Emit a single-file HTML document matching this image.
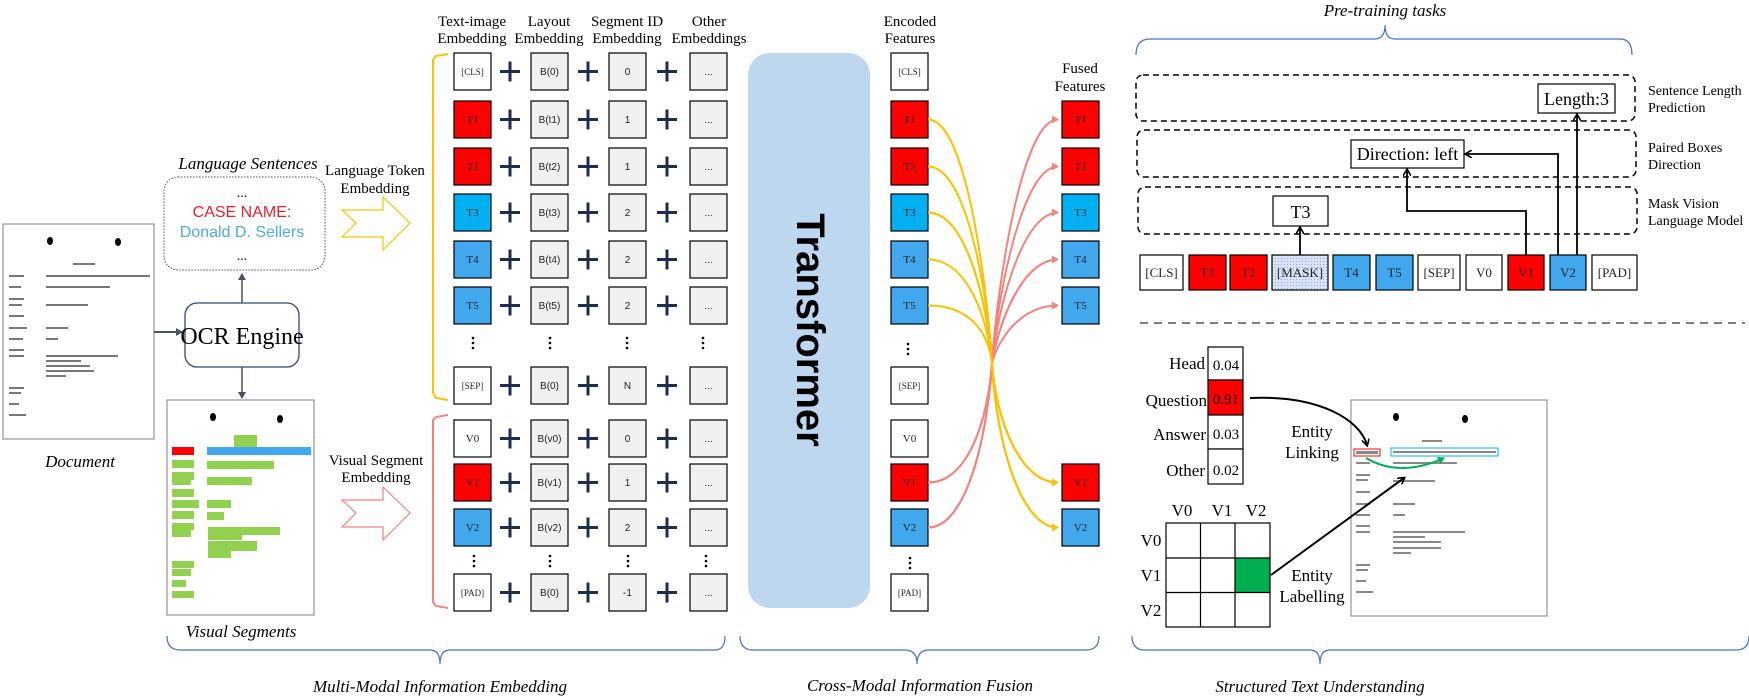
<!DOCTYPE html>
<html><head><meta charset="utf-8"><style>
html,body{margin:0;padding:0;background:#fff;}
svg{display:block;font-family:"Liberation Serif",serif;}
.s{font-family:"Liberation Sans",sans-serif;}
</style></head><body>
<svg width="1749" height="697" viewBox="0 0 1749 697" xmlns="http://www.w3.org/2000/svg">
<defs>
<marker id="ak" markerWidth="8" markerHeight="8" refX="6" refY="4" orient="auto" markerUnits="userSpaceOnUse"><path d="M0,0 L7,4 L0,8" fill="none" stroke="#000" stroke-width="1.6"/></marker>
<marker id="ab" markerWidth="8" markerHeight="8" refX="6" refY="4" orient="auto" markerUnits="userSpaceOnUse"><path d="M0,0 L7,4 L0,8 z" fill="#44546a"/></marker>
<marker id="ay" markerWidth="8" markerHeight="8" refX="6" refY="4" orient="auto" markerUnits="userSpaceOnUse"><path d="M0,0 L7,4 L0,8 z" fill="#ffc000"/></marker>
<marker id="ar" markerWidth="8" markerHeight="8" refX="6" refY="4" orient="auto" markerUnits="userSpaceOnUse"><path d="M0,0 L7,4 L0,8 z" fill="#f4837d"/></marker>
<marker id="ag" markerWidth="8" markerHeight="8" refX="6" refY="4" orient="auto" markerUnits="userSpaceOnUse"><path d="M0,0 L7,4 L0,8 z" fill="#00b050"/></marker>
<pattern id="dots" width="3" height="3" patternUnits="userSpaceOnUse"><rect width="3" height="3" fill="#dae3f3"/><rect width="1" height="1" fill="#8faadc"/></pattern>
</defs>

<!-- Document -->
<rect x="3" y="224" width="151" height="215" fill="#fff" stroke="#7f7f7f" stroke-width="1"/>
<ellipse cx="50" cy="241" rx="3" ry="4"/><ellipse cx="118" cy="242" rx="3" ry="4"/>
<g fill="#777">
<rect x="73" y="263" width="22" height="2"/>
<rect x="9" y="275" width="15" height="2"/><rect x="46" y="275" width="104" height="2"/>
<rect x="9" y="286" width="12" height="2"/><rect x="46" y="286" width="64" height="2"/>
<rect x="9" y="298" width="15" height="2"/><rect x="9" y="304" width="13" height="2"/><rect x="46" y="304" width="42" height="2"/>
<rect x="9" y="315" width="15" height="2"/>
<rect x="9" y="327" width="18" height="2"/><rect x="46" y="327" width="22" height="2"/>
<rect x="9" y="338" width="14" height="2"/><rect x="46" y="338" width="12" height="2"/>
<rect x="9" y="349" width="15" height="2"/><rect x="9" y="355" width="15" height="2"/><rect x="46" y="355" width="72" height="2"/>
<rect x="46" y="360" width="35" height="2"/><rect x="46" y="365" width="44" height="2"/><rect x="46" y="370" width="48" height="2"/><rect x="46" y="375" width="20" height="2"/>
<rect x="9" y="387" width="15" height="2"/><rect x="9" y="392" width="12" height="2"/>
<rect x="9" y="403" width="10" height="2"/><rect x="9" y="414" width="17" height="2"/>
</g>
<text x="80" y="467" font-size="17" font-style="italic" text-anchor="middle">Document</text>

<!-- Language sentences -->
<text x="248" y="169" font-size="17" font-style="italic" text-anchor="middle">Language Sentences</text>
<rect x="164" y="177" width="161" height="93" rx="14" fill="#fff" stroke="#44546a" stroke-width="1" stroke-dasharray="1.5,1.5"/>
<text x="242" y="197" font-size="14" text-anchor="middle">...</text>
<text x="242" y="217" font-size="16" class="s" fill="#e8202a" text-anchor="middle">CASE NAME:</text>
<text x="242" y="237" font-size="16" class="s" fill="#4bacdf" text-anchor="middle">Donald D. Sellers</text>
<text x="242" y="260" font-size="14" text-anchor="middle">...</text>

<!-- OCR engine -->
<rect x="185" y="303" width="114" height="64" rx="12" fill="#fff" stroke="#2f4a7a" stroke-width="1.3"/>
<text x="242" y="344" font-size="24" text-anchor="middle">OCR Engine</text>
<line x1="242" y1="303" x2="242" y2="274" stroke="#44546a" stroke-width="1.5" marker-end="url(#ab)"/>
<line x1="154" y1="332" x2="182" y2="332" stroke="#44546a" stroke-width="2" marker-end="url(#ab)"/>
<line x1="242" y1="367" x2="242" y2="398" stroke="#44546a" stroke-width="1.5" marker-end="url(#ab)"/>

<!-- Visual segments -->
<rect x="167" y="400" width="147" height="215" fill="#fff" stroke="#7f7f7f" stroke-width="1"/>
<ellipse cx="213" cy="417" rx="3" ry="4"/><ellipse cx="280" cy="419" rx="3" ry="4"/>
<rect x="234" y="435" width="23" height="12" fill="#92d050"/>
<rect x="172" y="447" width="22" height="8" fill="#ff0000"/>
<rect x="207" y="447" width="104" height="8" fill="#41a8ee"/>
<g fill="#92d050">
<rect x="172" y="460" width="22" height="8"/><rect x="207" y="461" width="67" height="8"/>
<rect x="172" y="472" width="22" height="8"/><rect x="172" y="478" width="19" height="7"/><rect x="207" y="477" width="45" height="8"/>
<rect x="172" y="489" width="22" height="8"/>
<rect x="172" y="500" width="27" height="8"/><rect x="207" y="500" width="24" height="8"/>
<rect x="172" y="511" width="22" height="8"/><rect x="207" y="512" width="17" height="8"/>
<rect x="172" y="523" width="22" height="7"/><rect x="172" y="530" width="19" height="7"/>
<rect x="208" y="527" width="72" height="8"/><rect x="208" y="534" width="34" height="6"/><rect x="208" y="541" width="49" height="5"/><rect x="208" y="546" width="49" height="5"/><rect x="208" y="551" width="23" height="7"/>
<rect x="172" y="561" width="22" height="7"/><rect x="172" y="569" width="19" height="7"/>
<rect x="172" y="580" width="14" height="7"/><rect x="172" y="591" width="22" height="7"/>
</g>
<text x="241" y="637" font-size="17" font-style="italic" text-anchor="middle">Visual Segments</text>

<!-- embedding arrows -->
<text x="375" y="175" font-size="15" text-anchor="middle">Language Token</text>
<text x="375" y="193" font-size="15" text-anchor="middle">Embedding</text>
<path d="M342,210 L383,210 L383,197 L410,223 L383,250 L383,237 L342,237 L356,223 Z" fill="#fff" stroke="#ffc000" stroke-width="1.2"/>
<text x="376" y="465" font-size="15" text-anchor="middle">Visual Segment</text>
<text x="376" y="482" font-size="15" text-anchor="middle">Embedding</text>
<path d="M342,500 L383,500 L383,487 L410,513 L383,540 L383,527 L342,527 L356,513 Z" fill="#fff" stroke="#f4837d" stroke-width="1.2"/>

<!-- brackets -->
<path d="M448,54 L436,56 L433,60 L433,393 L436,398 L448,400" fill="none" stroke="#ffc000" stroke-width="2"/>
<path d="M448,415 L436,417 L433,420 L433,602 L436,606 L448,608" fill="none" stroke="#f4837d" stroke-width="2"/>

<!-- headers -->
<g font-size="15" text-anchor="middle">
<text x="472" y="26">Text-image</text><text x="472" y="43">Embedding</text>
<text x="549" y="26">Layout</text><text x="549" y="43">Embedding</text>
<text x="627" y="26">Segment ID</text><text x="627" y="43">Embedding</text>
<text x="709" y="26">Other</text><text x="709" y="43">Embeddings</text>
<text x="910" y="26">Encoded</text><text x="910" y="43">Features</text>
<text x="1080" y="73">Fused</text><text x="1080" y="91">Features</text>
</g>

<!-- Column 1 text-image & encoded -->
<g stroke="#000" stroke-width="1.2">
<rect x="454" y="53" width="37" height="37" fill="#fff"/>
<rect x="454" y="101" width="37" height="37" fill="#ff0000"/>
<rect x="454" y="148" width="37" height="37" fill="#ff0000"/>
<rect x="454" y="194" width="37" height="37" fill="#00b0f0"/>
<rect x="454" y="241" width="37" height="37" fill="#41a8ee"/>
<rect x="454" y="287" width="37" height="37" fill="#41a8ee"/>
<rect x="454" y="367" width="37" height="37" fill="#fff"/>
<rect x="454" y="420" width="37" height="37" fill="#fff"/>
<rect x="454" y="464" width="37" height="37" fill="#ff0000"/>
<rect x="454" y="509" width="37" height="37" fill="#41a8ee"/>
<rect x="454" y="574" width="37" height="37" fill="#fff"/>

<rect x="891" y="53" width="37" height="37" fill="#fff"/>
<rect x="891" y="101" width="37" height="37" fill="#ff0000"/>
<rect x="891" y="148" width="37" height="37" fill="#ff0000"/>
<rect x="891" y="194" width="37" height="37" fill="#00b0f0"/>
<rect x="891" y="241" width="37" height="37" fill="#41a8ee"/>
<rect x="891" y="287" width="37" height="37" fill="#41a8ee"/>
<rect x="891" y="367" width="37" height="37" fill="#fff"/>
<rect x="891" y="420" width="37" height="37" fill="#fff"/>
<rect x="891" y="464" width="37" height="37" fill="#ff0000"/>
<rect x="891" y="509" width="37" height="37" fill="#41a8ee"/>
<rect x="891" y="574" width="37" height="37" fill="#fff"/>

<rect x="1062" y="101" width="37" height="37" fill="#ff0000"/>
<rect x="1062" y="148" width="37" height="37" fill="#ff0000"/>
<rect x="1062" y="194" width="37" height="37" fill="#00b0f0"/>
<rect x="1062" y="241" width="37" height="37" fill="#41a8ee"/>
<rect x="1062" y="287" width="37" height="37" fill="#41a8ee"/>
<rect x="1062" y="464" width="37" height="37" fill="#ff0000"/>
<rect x="1062" y="509" width="37" height="37" fill="#41a8ee"/>
</g>
<g font-size="11" text-anchor="middle" fill="#222">
<text x="472.5" y="75" font-size="9">[CLS]</text><text x="472.5" y="123">T1</text><text x="472.5" y="170">T2</text><text x="472.5" y="216">T3</text><text x="472.5" y="263">T4</text><text x="472.5" y="309">T5</text><text x="472.5" y="389" font-size="9">[SEP]</text><text x="472.5" y="442">V0</text><text x="472.5" y="486">V1</text><text x="472.5" y="531">V2</text><text x="472.5" y="596" font-size="9">[PAD]</text>
<text x="909.5" y="75" font-size="9">[CLS]</text><text x="909.5" y="123">T1</text><text x="909.5" y="170">T2</text><text x="909.5" y="216">T3</text><text x="909.5" y="263">T4</text><text x="909.5" y="309">T5</text><text x="909.5" y="389" font-size="9">[SEP]</text><text x="909.5" y="442">V0</text><text x="909.5" y="486">V1</text><text x="909.5" y="531">V2</text><text x="909.5" y="596" font-size="9">[PAD]</text>
<text x="1080.5" y="123">T1</text><text x="1080.5" y="170">T2</text><text x="1080.5" y="216">T3</text><text x="1080.5" y="263">T4</text><text x="1080.5" y="309">T5</text><text x="1080.5" y="486">V1</text><text x="1080.5" y="531">V2</text>
</g>

<!-- Layout / segment / other -->
<g fill="#f0f0f0" stroke="#000" stroke-width="1.2">
<rect x="531" y="53" width="37" height="37"/><rect x="531" y="101" width="37" height="37"/><rect x="531" y="148" width="37" height="37"/><rect x="531" y="194" width="37" height="37"/><rect x="531" y="241" width="37" height="37"/><rect x="531" y="287" width="37" height="37"/><rect x="531" y="367" width="37" height="37"/><rect x="531" y="420" width="37" height="37"/><rect x="531" y="464" width="37" height="37"/><rect x="531" y="509" width="37" height="37"/><rect x="531" y="574" width="37" height="37"/>
<rect x="609" y="53" width="37" height="37"/><rect x="609" y="101" width="37" height="37"/><rect x="609" y="148" width="37" height="37"/><rect x="609" y="194" width="37" height="37"/><rect x="609" y="241" width="37" height="37"/><rect x="609" y="287" width="37" height="37"/><rect x="609" y="367" width="37" height="37"/><rect x="609" y="420" width="37" height="37"/><rect x="609" y="464" width="37" height="37"/><rect x="609" y="509" width="37" height="37"/><rect x="609" y="574" width="37" height="37"/>
<rect x="690" y="53" width="37" height="37"/><rect x="690" y="101" width="37" height="37"/><rect x="690" y="148" width="37" height="37"/><rect x="690" y="194" width="37" height="37"/><rect x="690" y="241" width="37" height="37"/><rect x="690" y="287" width="37" height="37"/><rect x="690" y="367" width="37" height="37"/><rect x="690" y="420" width="37" height="37"/><rect x="690" y="464" width="37" height="37"/><rect x="690" y="509" width="37" height="37"/><rect x="690" y="574" width="37" height="37"/>
</g>
<g font-size="10" text-anchor="middle" class="s" fill="#222">
<text x="549.5" y="75">B(0)</text><text x="549.5" y="123">B(t1)</text><text x="549.5" y="170">B(t2)</text><text x="549.5" y="216">B(t3)</text><text x="549.5" y="263">B(t4)</text><text x="549.5" y="309">B(t5)</text><text x="549.5" y="389">B(0)</text><text x="549.5" y="442">B(v0)</text><text x="549.5" y="486">B(v1)</text><text x="549.5" y="531">B(v2)</text><text x="549.5" y="596">B(0)</text>
<text x="627.5" y="75">0</text><text x="627.5" y="123">1</text><text x="627.5" y="170">1</text><text x="627.5" y="216">2</text><text x="627.5" y="263">2</text><text x="627.5" y="309">2</text><text x="627.5" y="389">N</text><text x="627.5" y="442">0</text><text x="627.5" y="486">1</text><text x="627.5" y="531">2</text><text x="627.5" y="596">-1</text>
<text x="708.5" y="75">...</text><text x="708.5" y="123">...</text><text x="708.5" y="170">...</text><text x="708.5" y="216">...</text><text x="708.5" y="263">...</text><text x="708.5" y="309">...</text><text x="708.5" y="389">...</text><text x="708.5" y="442">...</text><text x="708.5" y="486">...</text><text x="708.5" y="531">...</text><text x="708.5" y="596">...</text>
</g>

<!-- vertical dots -->
<g fill="#000">
<circle cx="473" cy="338" r="1.3"/><circle cx="473" cy="343" r="1.3"/><circle cx="473" cy="348" r="1.3"/>
<circle cx="550" cy="338" r="1.3"/><circle cx="550" cy="343" r="1.3"/><circle cx="550" cy="348" r="1.3"/>
<circle cx="627" cy="338" r="1.3"/><circle cx="627" cy="343" r="1.3"/><circle cx="627" cy="348" r="1.3"/>
<circle cx="703" cy="338" r="1.3"/><circle cx="703" cy="343" r="1.3"/><circle cx="703" cy="348" r="1.3"/>
<circle cx="908" cy="344" r="1.3"/><circle cx="908" cy="349" r="1.3"/><circle cx="908" cy="354" r="1.3"/>
<circle cx="474" cy="556" r="1.3"/><circle cx="474" cy="561" r="1.3"/><circle cx="474" cy="566" r="1.3"/>
<circle cx="550" cy="556" r="1.3"/><circle cx="550" cy="561" r="1.3"/><circle cx="550" cy="566" r="1.3"/>
<circle cx="628" cy="556" r="1.3"/><circle cx="628" cy="561" r="1.3"/><circle cx="628" cy="566" r="1.3"/>
<circle cx="706" cy="556" r="1.3"/><circle cx="706" cy="561" r="1.3"/><circle cx="706" cy="566" r="1.3"/>
<circle cx="910" cy="558" r="1.3"/><circle cx="910" cy="563" r="1.3"/><circle cx="910" cy="568" r="1.3"/>
</g>

<!-- plus signs -->
<g stroke="#1f2d50" stroke-width="3">
<path d="M500,71.5h20M510,61.5v20 M578,71.5h20M588,61.5v20 M657,71.5h20M667,61.5v20"/>
<path d="M500,119.5h20M510,109.5v20 M578,119.5h20M588,109.5v20 M657,119.5h20M667,109.5v20"/>
<path d="M500,166.5h20M510,156.5v20 M578,166.5h20M588,156.5v20 M657,166.5h20M667,156.5v20"/>
<path d="M500,212.5h20M510,202.5v20 M578,212.5h20M588,202.5v20 M657,212.5h20M667,202.5v20"/>
<path d="M500,259.5h20M510,249.5v20 M578,259.5h20M588,249.5v20 M657,259.5h20M667,249.5v20"/>
<path d="M500,305.5h20M510,295.5v20 M578,305.5h20M588,295.5v20 M657,305.5h20M667,295.5v20"/>
<path d="M500,385.5h20M510,375.5v20 M578,385.5h20M588,375.5v20 M657,385.5h20M667,375.5v20"/>
<path d="M500,438.5h20M510,428.5v20 M578,438.5h20M588,428.5v20 M657,438.5h20M667,428.5v20"/>
<path d="M500,482.5h20M510,472.5v20 M578,482.5h20M588,472.5v20 M657,482.5h20M667,472.5v20"/>
<path d="M500,527.5h20M510,517.5v20 M578,527.5h20M588,517.5v20 M657,527.5h20M667,517.5v20"/>
<path d="M500,592.5h20M510,582.5v20 M578,592.5h20M588,582.5v20 M657,592.5h20M667,582.5v20"/>
</g>

<!-- Transformer -->
<rect x="748" y="53" width="122" height="555" rx="22" fill="#bdd7ee"/>
<text transform="translate(797,330) rotate(90)" font-size="40" font-weight="bold" class="s" text-anchor="middle" fill="#000">Transformer</text>

<!-- fusion curves -->
<g fill="none" stroke="#f4837d" stroke-width="2">
<path d="M928,482.5 C968,482.5 988,420 992,363 C996,300 1020,119.5 1058,119.5" marker-end="url(#ar)"/>
<path d="M928,482.5 C968,482.5 988,420 992,363 C996,310 1020,166.5 1058,166.5" marker-end="url(#ar)"/>
<path d="M928,527.5 C968,527.5 988,430 992,363 C996,320 1020,212.5 1058,212.5" marker-end="url(#ar)"/>
<path d="M928,527.5 C968,527.5 988,430 992,363 C997,330 1020,259.5 1058,259.5" marker-end="url(#ar)"/>
<path d="M928,527.5 C968,527.5 988,430 992,363 C998,340 1020,305.5 1058,305.5" marker-end="url(#ar)"/>
<path d="M928,482.5 C968,482.5 988,420 992,363 C997,330 1020,259.5 1058,259.5"/>
</g>
<g fill="none" stroke="#ffc000" stroke-width="2">
<path d="M928,119.5 C968,119.5 988,300 992,363 C996,420 1020,482.5 1058,482.5" marker-end="url(#ay)"/>
<path d="M928,166.5 C968,166.5 988,300 992,363 C996,420 1020,482.5 1058,482.5"/>
<path d="M928,212.5 C968,212.5 988,310 992,363 C996,420 1020,482.5 1058,482.5"/>
<path d="M928,259.5 C968,259.5 988,320 992,363 C996,440 1020,527.5 1058,527.5" marker-end="url(#ay)"/>
<path d="M928,305.5 C968,305.5 988,330 992,363 C996,440 1020,527.5 1058,527.5"/>
<path d="M928,212.5 C968,212.5 988,310 992,363 C996,440 1020,527.5 1058,527.5"/>
</g>

<!-- bottom braces -->
<g fill="none" stroke="#4472c4" stroke-width="1.2">
<path d="M167,636 Q167,650 180,650 L430,650 Q440,650 440,664 Q440,650 450,650 L715,650 Q725,650 725,636"/>
<path d="M740,636 Q740,650 753,650 L905,650 Q917,650 917,664 Q917,650 929,650 L1086,650 Q1099,650 1099,636"/>
<path d="M1132,636 Q1132,650 1145,650 L1310,650 Q1320,650 1320,664 Q1320,650 1330,650 L1736,650 Q1749,650 1749,636"/>
<path d="M1136,55 Q1136,39 1150,39 L1375,39 Q1385,39 1385,25 Q1385,39 1395,39 L1620,39 Q1632,39 1632,55"/>
</g>
<g font-size="17" font-style="italic" text-anchor="middle">
<text x="440" y="692">Multi-Modal Information Embedding</text>
<text x="920" y="691">Cross-Modal Information Fusion</text>
<text x="1320" y="692">Structured Text Understanding</text>
<text x="1385" y="16">Pre-training tasks</text>
</g>

<!-- pre-training dashed boxes -->
<g fill="none" stroke="#000" stroke-width="1.5" stroke-dasharray="6,4">
<rect x="1136" y="75" width="499" height="46" rx="7"/>
<rect x="1137" y="130" width="499" height="47" rx="7"/>
<rect x="1138" y="187" width="499" height="47" rx="7"/>
</g>
<g font-size="14">
<text x="1648" y="95">Sentence Length</text><text x="1648" y="112">Prediction</text>
<text x="1648" y="152">Paired Boxes</text><text x="1648" y="169">Direction</text>
<text x="1648" y="208">Mask Vision</text><text x="1648" y="225">Language Model</text>
</g>
<g fill="#fff" stroke="#000" stroke-width="1.2">
<rect x="1538" y="84" width="77" height="29"/>
<rect x="1351" y="140" width="113" height="28"/>
<rect x="1273" y="196" width="55" height="30"/>
</g>
<text x="1576.5" y="105" font-size="18" text-anchor="middle">Length:3</text>
<text x="1407.5" y="160" font-size="18" text-anchor="middle">Direction: left</text>
<text x="1300.5" y="218" font-size="18" text-anchor="middle">T3</text>

<g stroke="#000" stroke-width="1.2">
<rect x="1140" y="255" width="43" height="35" fill="#fff"/>
<rect x="1189" y="255" width="37" height="35" fill="#ff0000"/>
<rect x="1230" y="255" width="37" height="35" fill="#ff0000"/>
<rect x="1272" y="255" width="56" height="35" fill="url(#dots)"/>
<rect x="1333" y="255" width="37" height="35" fill="#41a8ee"/>
<rect x="1376" y="255" width="37" height="35" fill="#41a8ee"/>
<rect x="1418" y="255" width="42" height="35" fill="#fff"/>
<rect x="1466" y="255" width="36" height="35" fill="#fff"/>
<rect x="1508" y="255" width="36" height="35" fill="#ff0000"/>
<rect x="1550" y="255" width="36" height="35" fill="#41a8ee"/>
<rect x="1592" y="255" width="45" height="35" fill="#fff"/>
</g>
<g font-size="13" text-anchor="middle" fill="#222">
<text x="1161.5" y="277">[CLS]</text><text x="1207.5" y="277">T1</text><text x="1248.5" y="277">T2</text><text x="1300" y="277">[MASK]</text><text x="1351.5" y="277">T4</text><text x="1394.5" y="277">T5</text><text x="1439" y="277">[SEP]</text><text x="1484" y="277">V0</text><text x="1526" y="277">V1</text><text x="1568" y="277">V2</text><text x="1614.5" y="277">[PAD]</text>
</g>
<g fill="none" stroke="#000" stroke-width="1.8">
<path d="M1300,255 V228" marker-end="url(#ak)"/>
<path d="M1526,255 V211 H1407 V170" marker-end="url(#ak)"/>
<path d="M1558,255 V154 H1466" marker-end="url(#ak)"/>
<path d="M1577,255 V115" marker-end="url(#ak)"/>
</g>

<!-- separator -->
<line x1="1140" y1="323" x2="1745" y2="323" stroke="#7f7f7f" stroke-width="2" stroke-dasharray="8,6"/>

<!-- entity classification -->
<g stroke="#000" stroke-width="1.2">
<rect x="1208" y="347" width="35" height="33" fill="#fff"/>
<rect x="1208" y="380" width="35" height="35" fill="#ff0000"/>
<rect x="1208" y="415" width="35" height="34" fill="#fff"/>
<rect x="1208" y="449" width="35" height="35" fill="#fff"/>
</g>
<g font-size="15" text-anchor="middle">
<text x="1226" y="370">0.04</text><text x="1226" y="404">0.91</text><text x="1226" y="439">0.03</text><text x="1226" y="475">0.02</text>
</g>
<g font-size="17" text-anchor="end">
<text x="1205" y="369">Head</text><text x="1207" y="406">Question</text><text x="1206" y="440">Answer</text><text x="1205" y="476">Other</text>
</g>
<text x="1312" y="437" font-size="17" text-anchor="middle">Entity</text>
<text x="1312" y="458" font-size="17" text-anchor="middle">Linking</text>
<text x="1312" y="581" font-size="17" text-anchor="middle">Entity</text>
<text x="1312" y="602" font-size="17" text-anchor="middle">Labelling</text>

<!-- grid -->
<rect x="1235" y="558" width="35" height="35" fill="#00b050"/>
<g stroke="#000" stroke-width="1.2" fill="none">
<rect x="1166" y="523" width="104" height="104"/>
<path d="M1200.5,523V627M1235,523V627M1166,558H1270M1166,592.5H1270"/>
</g>
<g font-size="17" text-anchor="middle">
<text x="1182" y="516">V0</text><text x="1222" y="516">V1</text><text x="1256" y="516">V2</text>
<text x="1151" y="546">V0</text><text x="1151" y="581">V1</text><text x="1151" y="616">V2</text>
</g>

<!-- right doc -->
<rect x="1351" y="400" width="196" height="216" fill="#fff" stroke="#7f7f7f" stroke-width="1"/>
<ellipse cx="1396" cy="417" rx="3" ry="4"/><ellipse cx="1465" cy="419" rx="3" ry="4"/>
<g fill="#888">
<rect x="1422" y="440" width="20" height="2"/>
<rect x="1356" y="462" width="14" height="2"/><rect x="1393" y="462" width="64" height="2"/>
<rect x="1356" y="474" width="14" height="2"/><rect x="1356" y="479" width="12" height="2"/><rect x="1393" y="480" width="42" height="2"/>
<rect x="1356" y="491" width="14" height="2"/>
<rect x="1356" y="503" width="14" height="2"/><rect x="1393" y="503" width="22" height="2"/>
<rect x="1356" y="514" width="14" height="2"/><rect x="1393" y="514" width="12" height="2"/>
<rect x="1356" y="525" width="14" height="2"/><rect x="1356" y="531" width="14" height="2"/><rect x="1393" y="531" width="72" height="2"/>
<rect x="1393" y="536" width="32" height="2"/><rect x="1393" y="541" width="48" height="2"/><rect x="1393" y="547" width="48" height="2"/><rect x="1393" y="552" width="18" height="2"/>
<rect x="1356" y="564" width="14" height="2"/><rect x="1356" y="569" width="12" height="2"/>
<rect x="1356" y="580" width="10" height="2"/><rect x="1356" y="591" width="17" height="2"/>
</g>
<rect x="1354" y="449" width="26" height="7" fill="#fff" stroke="#ff0000" stroke-width="1"/>
<rect x="1356" y="451" width="22" height="3" fill="#888"/>
<rect x="1391" y="448" width="107" height="8" fill="#fff" stroke="#00b0f0" stroke-width="1"/>
<rect x="1393" y="451" width="103" height="2" fill="#888"/>
<path d="M1366,458 Q1400,478 1444,458" fill="none" stroke="#00b050" stroke-width="2" marker-end="url(#ag)"/>

<path d="M1250,398 C1320,395 1360,420 1367,445" fill="none" stroke="#000" stroke-width="2" marker-end="url(#ak)"/>
<line x1="1271" y1="575" x2="1404" y2="478" stroke="#000" stroke-width="2" marker-end="url(#ak)"/>
</svg>
</body></html>
